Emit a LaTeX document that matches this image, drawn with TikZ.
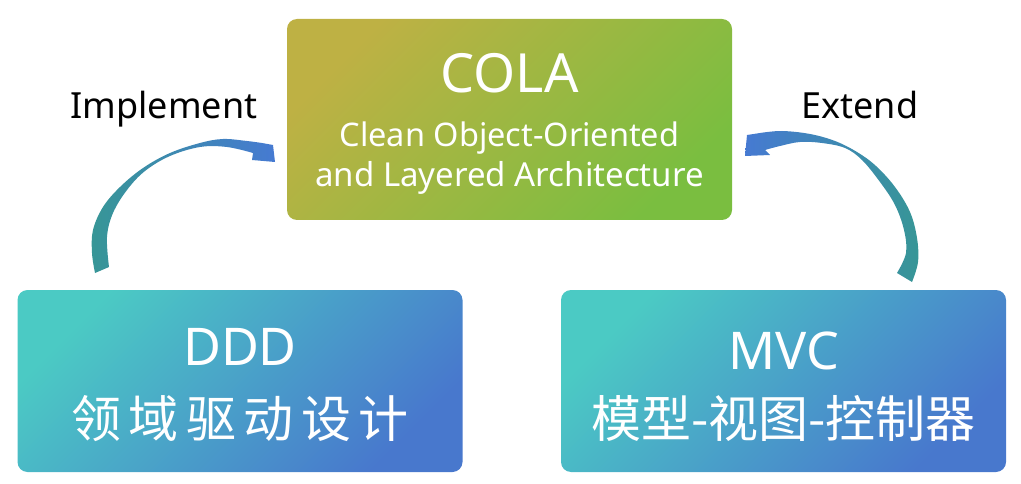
\documentclass[tikz,border=0pt]{standalone}
\usepackage{fontspec}
\setmainfont{Noto Sans}
\newfontfamily\cjk{Noto Sans CJK SC}
\definecolor{colaTL}{RGB}{190,177,68}
\definecolor{colaBR}{RGB}{122,190,64}
\definecolor{bxTL}{RGB}{75,202,196}
\definecolor{bxBR}{RGB}{72,120,205}
\definecolor{arrteal}{RGB}{55,150,150}
\definecolor{arrcyan}{RGB}{75,185,210}
\definecolor{arrblue}{RGB}{70,122,210}
\tikzset{
  box/.style={rectangle, rounded corners=10pt, inner sep=0pt, draw=none,
    minimum width=445pt, minimum height=182pt},
  colabox/.style={box, minimum height=201pt, top color=colaTL, bottom color=colaBR, shading angle=45},
  tealbox/.style={box, top color=bxTL, bottom color=bxBR, shading angle=45},
  lbl/.style={font=\fontsize{36}{40}\selectfont, text=black, anchor=base, inner sep=0pt},
  wt/.style={text=white, anchor=base, inner sep=0pt},
}
\newcommand{\gp}{\hspace{7.5pt}}
\begin{document}
\begin{tikzpicture}[x=1pt, y=-1pt]
\useasboundingbox (0,0) rectangle (1021,484);
% boxes
\node[colabox] (cola) at (509.5,119.5) {};
\node[tealbox] (ddd) at (240,381) {};
\node[tealbox] (mvc) at (783.5,381) {};
% box texts
\node[wt, font=\fontsize{54}{58}\selectfont] (colat) at (509.5,93) {COLA};
\node[wt, font=\fontsize{32.5}{36}\selectfont] (cola1) at (509.5,147) {Clean Object-Oriented};
\node[wt, font=\fontsize{33}{36}\selectfont] (cola2) at (509.5,187) {and Layered Architecture};
\node[wt, font=\fontsize{52}{56}\selectfont] (dddt) at (240,365) {DDD};
\node[wt, font=\cjk\fontsize{50}{54}\selectfont] (dddc) at (240,437) {领\gp 域\gp 驱\gp 动\gp 设\gp 计};
\node[wt, font=\fontsize{52}{56}\selectfont] (mvct) at (783.5,369) {MVC};
\node[wt, font=\cjk\fontsize{50}{54}\selectfont] (mvcc) at (783.5,437) {模型-视图-控制器};
% labels
\node[lbl] (impl) at (164,119) {Implement};
\node[lbl] (ext) at (860,119) {Extend};
% left arrow (DDD -> COLA)
\shade[left color=arrteal, middle color=arrcyan, right color=arrblue]
  plot[smooth, tension=0.6] coordinates {(95,273) (92,253) (93,230) (103,207) (120,187) (143,168) (170,153) (200,143) (223,139) (247,141) (262,143)}
  -- (273,145) -- (275,162) -- (252,160) -- (253,153)
  -- plot[smooth, tension=0.6] coordinates {(253,153) (227,147) (200,147) (170,156) (145,171) (127,190) (113,213) (107,237) (109,267)}
  -- cycle;
% right arrow (MVC -> COLA)
\shade[left color=arrblue, middle color=arrcyan, right color=arrteal]
  plot[smooth, tension=0.6] coordinates {(912,282) (918,262) (917,238) (910,212) (895,187) (876,166) (857,152) (835,141) (810,134) (782,131) (760,133)}
  -- (747,135) -- (745,156) -- (770,155) -- (765,150)
  -- plot[smooth, tension=0.6] coordinates {(765,150) (780,146) (800,142) (822,143) (845,148) (862,160) (880,182) (895,205) (904,230) (906,253) (897,273)}
  -- cycle;
\end{tikzpicture}
\end{document}
